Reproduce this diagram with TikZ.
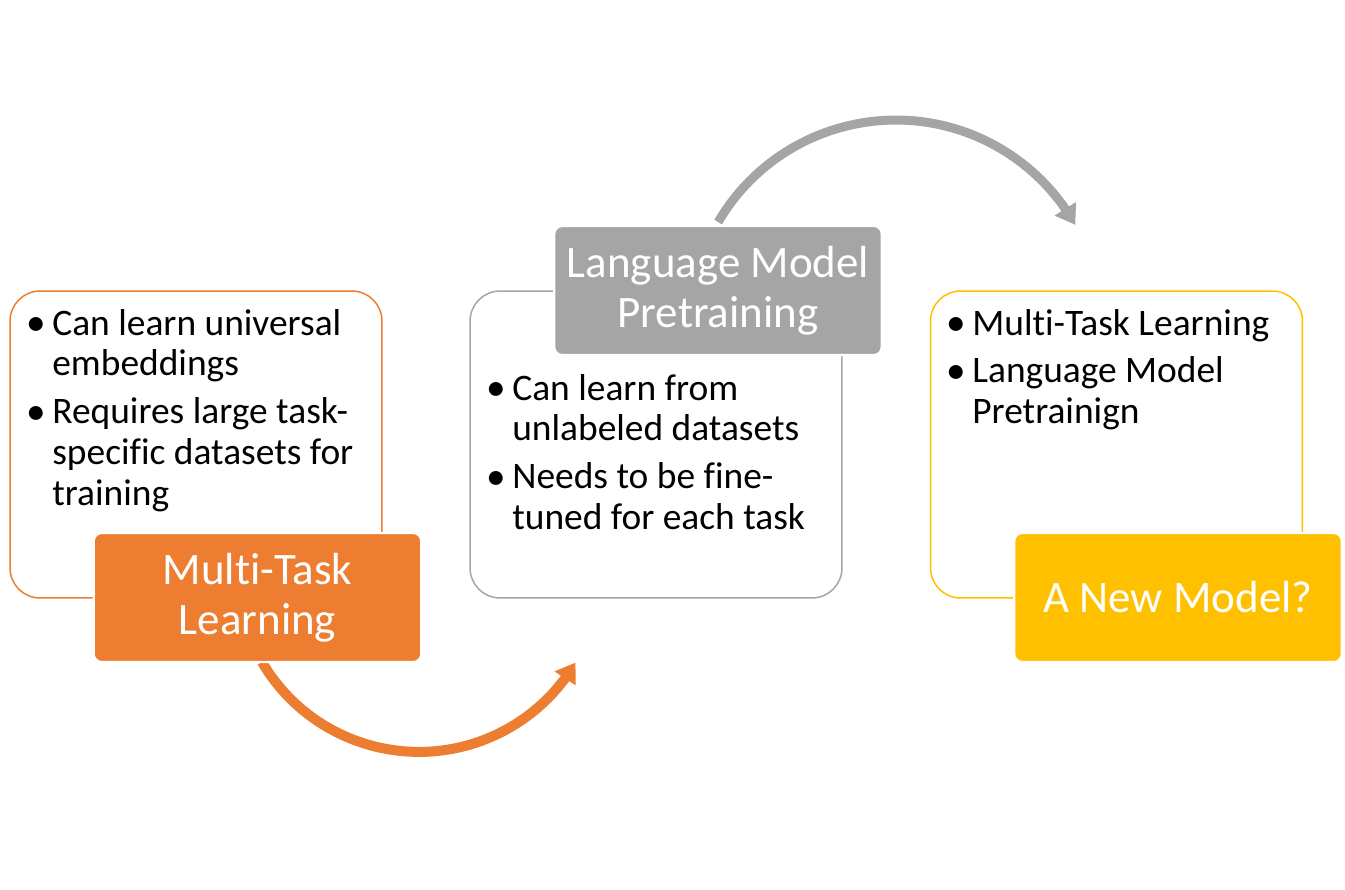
\documentclass[tikz,border=0pt]{standalone}
\usepackage{fontspec}
\setmainfont{Carlito}[Ligatures={NoCommon,NoContextual}]
\usetikzlibrary{arrows.meta,bending}
\definecolor{cOrange}{HTML}{ED7D31}
\definecolor{cGray}{HTML}{A5A5A5}
\definecolor{cYellow}{HTML}{FFC000}
\newcommand\bitem[1]{\hangindent=0.54cm\hangafter=1\noindent\makebox[0.54cm][l]{\hspace{0.03cm}\raisebox{-0.02em}{\scalebox{1.05}{\textbullet}}}#1\par}
\newcommand\bgap{\vskip0.14cm}
\tikzset{
  outbox/.style={draw=#1, line width=0.85pt, rounded corners=0.6cm, fill=white,
    minimum width=7.44cm, minimum height=6.14cm, inner sep=0pt},
  labbox/.style={fill=#1, draw=white, line width=1.2pt, rounded corners=0.16cm,
    minimum width=6.55cm, minimum height=2.58cm, inner sep=0pt, text=white, align=center,
    font=\fontsize{25.6}{28.45}\selectfont},
  bodytext/.style={anchor=base west, inner sep=0pt, text width=#1, align=flush left,
    font=\fontsize{21.3}{23.3}\selectfont},
  cyc/.style={draw=#1, line width=0.2cm, -{Triangle[width=0.48cm,length=0.38cm]}}
}
\begin{document}
\begin{tikzpicture}[x=0.02cm,y=-0.02cm]
\useasboundingbox (0,0) rectangle (1345,889);
% outline boxes
\node[outbox=cOrange] (b1) at (196,444.5) {};
\node[outbox=cGray] (b2) at (656,444.5) {};
\node[outbox=cYellow] (b3) at (1116.5,444.5) {};
% body texts
\node[bodytext=7.2cm] (t1) at (25,335) {\bitem{Can learn universal\newline embeddings}\bgap\bitem{Requires large task-\newline specific datasets for\newline training}};
\node[bodytext=7.2cm] (t2) at (485,400) {\bitem{Can learn from\newline unlabeled datasets}\bgap\bitem{Needs to be fine-\newline tuned for each task}};
\node[bodytext=7.2cm] (t3) at (945,335) {\bitem{Multi-Task Learning}\bgap\bitem{Language Model\newline Pretrainign}};
% cycle arrows
\coordinate (a1s) at (262,662);
\coordinate (a2s) at (718.1,222.1);
\draw[cyc=cOrange] (a1s) arc[start angle=210.4, end angle=329.4, radius=3.64cm];
\draw[cyc=cGray, line width=0.18cm] (a2s) arc[start angle=149.7, end angle=29.4, radius=4.12cm];
% labels
\node[labbox=cOrange] (l1) at (257.5,597.5) {Multi-Task\\Learning};
\node[labbox=cGray] (l2) at (718,290.5) {Language Model\\Pretraining};
\node[labbox=cYellow] (l3) at (1178,597.5) {A New Model?};
\end{tikzpicture}
\end{document}
